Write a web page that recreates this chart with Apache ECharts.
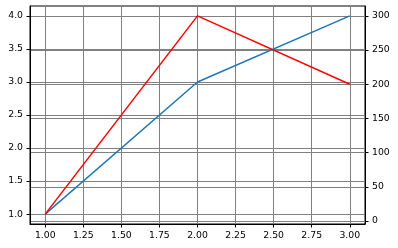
<!DOCTYPE html>
<html>
<head>
<meta charset="utf-8">
<script src="https://cdn.jsdelivr.net/npm/echarts@6/dist/echarts.min.js"></script>
<style>
  html, body { margin: 0; padding: 0; background: #fff; }
  #main { width: 398px; height: 248px; }
</style>
</head>
<body>
<div id="main"></div>
<script>
// data
var xValues = [1, 2, 3];
var blueValues = [1, 3, 4];        // left axis
var redValues = [10, 300, 200];    // right axis

var xTicks = [1, 1.25, 1.5, 1.75, 2, 2.25, 2.5, 2.75, 3];
var leftTicks = [1, 1.5, 2, 2.5, 3, 3.5, 4];
var rightTicks = [0, 50, 100, 150, 200, 250, 300];

var chart = echarts.init(document.getElementById('main'));

var labelStyle = { color: '#000', fontSize: 9.3, fontFamily: 'DejaVu Sans' };
var tickStyle = { show: true, inside: false, length: 3.5, lineStyle: { color: '#000', width: 1 } };
var gridLine = { show: true, lineStyle: { color: '#808080', width: 1 } };

var option = {
  backgroundColor: '#fff',
  animation: false,
  grid: {
    left: 30, top: 6, width: 335, height: 218,
    show: true, borderColor: '#000', borderWidth: 1, backgroundColor: 'transparent'
  },
  xAxis: {
    type: 'value', min: 0.9, max: 3.1,
    axisLine: { show: true, onZero: false, lineStyle: { color: '#000', width: 1 } },
    axisTick: Object.assign({ customValues: xTicks }, tickStyle),
    axisLabel: Object.assign({ customValues: xTicks, margin: 7,
      formatter: function (v) { return v.toFixed(2); } }, labelStyle),
    splitLine: gridLine
  },
  yAxis: [
    {
      type: 'value', min: 0.85, max: 4.15, position: 'left',
      axisLine: { show: true, lineStyle: { color: '#000', width: 1 } },
      axisTick: Object.assign({ customValues: leftTicks }, tickStyle),
      axisLabel: Object.assign({ customValues: leftTicks, margin: 7,
        formatter: function (v) { return v.toFixed(1); } }, labelStyle),
      splitLine: gridLine
    },
    {
      type: 'value', min: -4.5, max: 314.5, position: 'right',
      axisLine: { show: true, lineStyle: { color: '#000', width: 1 } },
      axisTick: Object.assign({ customValues: rightTicks }, tickStyle),
      axisLabel: Object.assign({ customValues: rightTicks, margin: 7,
        formatter: function (v) { return String(Math.round(v)); } }, labelStyle),
      splitLine: gridLine
    }
  ],
  series: [
    {
      type: 'line', yAxisIndex: 0, showSymbol: false, symbol: 'none',
      lineStyle: { color: '#1f77b4', width: 1.5 },
      data: xValues.map(function (x, i) { return [x, blueValues[i]]; })
    },
    {
      type: 'line', yAxisIndex: 1, showSymbol: false, symbol: 'none',
      lineStyle: { color: '#ff0000', width: 1.5 },
      data: xValues.map(function (x, i) { return [x, redValues[i]]; })
    }
  ]
};

chart.setOption(option);
</script>
</body>
</html>
